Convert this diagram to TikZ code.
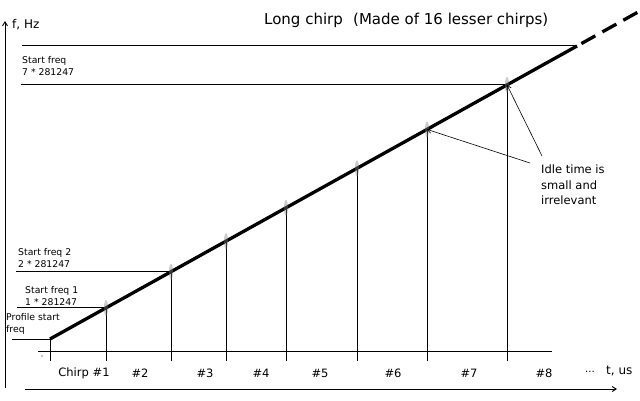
\documentclass[tikz,border=0pt]{standalone}
\usepackage{fontspec}
\setmainfont{DejaVu Sans}
\usetikzlibrary{arrows.meta,calc}
\begin{document}
\begin{tikzpicture}[x=1pt,y=-1pt,
  thinline/.style={line width=0.9pt},
  chirpline/.style={line width=3.3pt},
  axisarrow/.style={line width=0.9pt,-{Straight Barb[length=4pt,width=5pt]}},
  noteline/.style={line width=0.6pt,-{Straight Barb[length=4pt,width=5pt]}},
  smalllbl/.style={font=\fontsize{9.3}{12.5}\selectfont,align=left,anchor=west,inner sep=0pt},
  numlbl/.style={font=\fontsize{11.5}{13}\selectfont,inner sep=0pt},
  blur/.style={fill=gray,opacity=0.4}]
\useasboundingbox (0,0) rectangle (640,400);
% junctions on the chirp
\coordinate (j0) at (50,339);
\coordinate (j1) at (106,307.9);
\coordinate (j2) at (171,271.7);
\coordinate (j3) at (226,241.1);
\coordinate (j4) at (286,207.8);
\coordinate (j5) at (357,168.3);
\coordinate (j6) at (427,129.4);
\coordinate (j7) at (507,84.9);
\coordinate (jend) at (577,46);
\coordinate (jfar) at (641,10.4);
% axes
\coordinate (yb) at (5,388); \coordinate (yt) at (5,21);
\coordinate (xl) at (25,389); \coordinate (xr) at (617,389);
\draw[axisarrow] (yb) -- (yt);
\draw[axisarrow] (xl) -- (xr);
\node[anchor=west,font=\fontsize{12}{14}\selectfont,inner sep=0pt] (fhz) at (12,25) {f, Hz};
\node[anchor=west,font=\fontsize{12}{14}\selectfont,inner sep=0pt] (tus) at (606,371) {t, us};
\node[anchor=west,font=\fontsize{10}{12}\selectfont,inner sep=0pt] (dots) at (585,372) {...};
% title
\node[anchor=west,font=\fontsize{15}{18}\selectfont,inner sep=0pt] (title) at (264,20) {Long chirp};
\node[anchor=west,font=\fontsize{15}{18}\selectfont,inner sep=0pt] (title2) at (353,20) {(Made of 16 lesser chirps)};
% level lines
\coordinate (h45) at (22,45.5);
\coordinate (h85) at (21,84.9);
\coordinate (h272) at (16,271.7);
\coordinate (h308) at (17,307.9);
\coordinate (h339) at (12,339);
\draw[thinline] (h45) -- (jend |- h45);
\draw[thinline] (h85) -- (j7);
\draw[thinline] (h272) -- (j2);
\draw[thinline] (h308) -- (j1);
\draw[thinline] (h339) -- (j0);
% baseline
\coordinate (bl) at (38,351); \coordinate (br) at (552,351);
\draw[thinline] (bl) -- (br);
% vertical ticks
\foreach \j in {j0,j1,j2,j3,j4,j5,j6,j7}{
  \draw[thinline] (\j) -- (\j |- 0,361);
}
\fill (42,356) circle (0.6);
% level labels
\node[smalllbl] (s7) at (22,66) {Start freq\\7 * 281247};
\node[smalllbl] (s2) at (18,258) {Start freq 2\\2 * 281247};
\node[smalllbl] (s1) at (25,296) {Start freq 1\\1 * 281247};
\node[smalllbl] (ps) at (6,324) {Profile start\\freq};
% chirp
\draw[chirpline] (j0) -- (jend);
\draw[chirpline,dash pattern=on 16pt off 8pt] ($(jend)!5pt!(jfar)$) -- (jfar);
\foreach \j in {j1,j2,j3,j4,j5,j6,j7}{
  \fill[blur] (\j) ellipse (2 and 8);
}
% chirp numbers
\node[numlbl] (c1) at (84,373) {Chirp \#1};
\node[numlbl] (c2) at (140,373) {\#2};
\node[numlbl] (c3) at (205,373) {\#3};
\node[numlbl] (c4) at (261,373) {\#4};
\node[numlbl] (c5) at (320,373) {\#5};
\node[numlbl] (c6) at (393,373) {\#6};
\node[numlbl] (c7) at (469,373) {\#7};
\node[numlbl] (c8) at (544,373) {\#8};
% note
\node[anchor=north west,align=left,font=\fontsize{11.5}{15.5}\selectfont,inner sep=0pt] (idle) at (541,165) {Idle time is\\small and\\irrelevant};
\coordinate (n1) at (542,156);
\coordinate (n2) at (530,163);
\draw[noteline] (n1) -- (j7);
\draw[noteline] (n2) -- (j6);
\end{tikzpicture}
\end{document}
